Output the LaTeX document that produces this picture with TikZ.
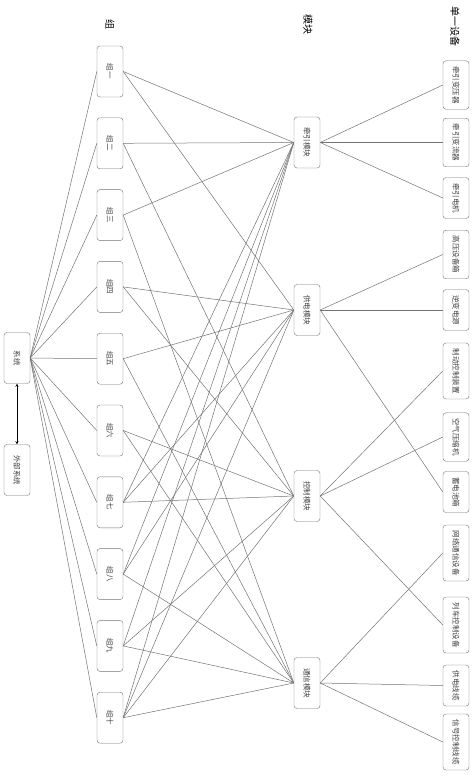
\documentclass[tikz,border=0pt]{standalone}
\usepackage{fontspec}
\setmainfont{Noto Sans CJK SC}
\newcommand{\vlabel}[1]{\rotatebox{-90}{#1}}

\begin{document}
\begin{tikzpicture}[
        x=1pt, y=1pt,
        node distance = 71.8pt,
        box/.style = {draw=black!55, rounded corners=3pt, minimum width=26pt, text=black!75,
                      inner xsep=0pt, inner ysep=5.5pt, font=\fontsize{7.5}{8}\selectfont},
        grp/.style = {box, minimum height=51pt},
        head/.style = {font=\fontsize{10}{11}\selectfont},
        link/.style = {draw=black!55, line width=0.5pt}]

        \useasboundingbox (0,0) rectangle (474,-778);

        % NODES
        % headers
        \node[head] (hdr_grp) at (110,-25) {\vlabel{组}};
        \node[head] (hdr_mod) at (308,-25) {\vlabel{模块}};
        \node[head] (hdr_dev) at (455,-27) {\vlabel{单一设备}};

        % system
        \node[grp] (sys) at (17,-358) {\vlabel{系统}};
        \node[grp] (ext) at (17,-470) {\vlabel{外部系统}};

        % groups
        \node[grp] (g1) at (110,-71.5) {\vlabel{组一}};
        \node[grp, below of = g1] (g2) {\vlabel{组二}};
        \node[grp, below of = g2] (g3) {\vlabel{组三}};
        \node[grp, below of = g3] (g4) {\vlabel{组四}};
        \node[grp, below of = g4] (g5) {\vlabel{组五}};
        \node[grp, below of = g5] (g6) {\vlabel{组六}};
        \node[grp, below of = g6] (g7) {\vlabel{组七}};
        \node[grp, below of = g7] (g8) {\vlabel{组八}};
        \node[grp, below of = g8] (g9) {\vlabel{组九}};
        \node[grp, below of = g9] (g10) {\vlabel{组十}};

        % modules
        \node[grp] (traction) at (307,-142.5) {\vlabel{牵引模块}};
        \node[grp] (power) at (307,-310) {\vlabel{供电模块}};
        \node[grp] (control) at (307,-496) {\vlabel{控制模块}};
        \node[grp] (comm) at (307,-683) {\vlabel{通信模块}};

        % single devices
        \node[box] (d1) at (456,-85) {\vlabel{牵引变压器}};
        \node[box] (d2) at (456,-142.5) {\vlabel{牵引变流器}};
        \node[box] (d3) at (456,-198) {\vlabel{牵引电机}};
        \node[box] (d4) at (456,-254.5) {\vlabel{高压设备箱}};
        \node[box] (d5) at (456,-310) {\vlabel{逆变电源}};
        \node[box] (d6) at (456,-371) {\vlabel{制动控制装置}};
        \node[box] (d7) at (456,-437) {\vlabel{空气压缩机}};
        \node[box] (d8) at (456,-492) {\vlabel{蓄电池箱}};
        \node[box] (d9) at (456,-553) {\vlabel{网络通信设备}};
        \node[box] (d10) at (456,-625) {\vlabel{列车控制设备}};
        \node[box] (d11) at (456,-685.5) {\vlabel{供电线缆}};
        \node[box] (d12) at (456,-742) {\vlabel{信号控制线缆}};

        % ARROWS
        \draw[<->, >=stealth, thin] (sys)--(ext);

        % system to groups
        \draw[link] (sys.east)--(g1.west);
        \draw[link] (sys.east)--(g2.west);
        \draw[link] (sys.east)--(g3.west);
        \draw[link] (sys.east)--(g4.west);
        \draw[link] (sys.east)--(g5.west);
        \draw[link] (sys.east)--(g6.west);
        \draw[link] (sys.east)--(g7.west);
        \draw[link] (sys.east)--(g8.west);
        \draw[link] (sys.east)--(g9.west);
        \draw[link] (sys.east)--(g10.west);

        % groups to modules
        \draw[link] (g1.east)--(traction.west);
        \draw[link] (g1.east)--(power.west);
        \draw[link] (g2.east)--(traction.west);
        \draw[link] (g2.east)--(control.west);
        \draw[link] (g3.east)--(traction.west);
        \draw[link] (g3.east)--(comm.west);
        \draw[link] (g4.east)--(power.west);
        \draw[link] (g4.east)--(control.west);
        \draw[link] (g5.east)--(power.west);
        \draw[link] (g5.east)--(comm.west);
        \draw[link] (g6.east)--(control.west);
        \draw[link] (g6.east)--(comm.west);
        \draw[link] (g7.east)--(traction.west);
        \draw[link] (g7.east)--(power.west);
        \draw[link] (g7.east)--(control.west);
        \draw[link] (g8.east)--(traction.west);
        \draw[link] (g8.east)--(power.west);
        \draw[link] (g8.east)--(comm.west);
        \draw[link] (g9.east)--(traction.west);
        \draw[link] (g9.east)--(control.west);
        \draw[link] (g9.east)--(comm.west);
        \draw[link] (g10.east)--(traction.west);
        \draw[link] (g10.east)--(power.west);
        \draw[link] (g10.east)--(control.west);
        \draw[link] (g10.east)--(comm.west);

        % modules to devices
        \draw[link] (traction.east)--(d1.west);
        \draw[link] (traction.east)--(d2.west);
        \draw[link] (traction.east)--(d3.west);
        \draw[link] (power.east)--(d4.west);
        \draw[link] (power.east)--(d5.west);
        \draw[link] (power.east)--(d8.west);
        \draw[link] (control.east)--(d6.west);
        \draw[link] (control.east)--(d7.west);
        \draw[link] (control.east)--(d10.west);
        \draw[link] (comm.east)--(d9.west);
        \draw[link] (comm.east)--(d11.west);
        \draw[link] (comm.east)--(d12.west);
\end{tikzpicture}
\end{document}
